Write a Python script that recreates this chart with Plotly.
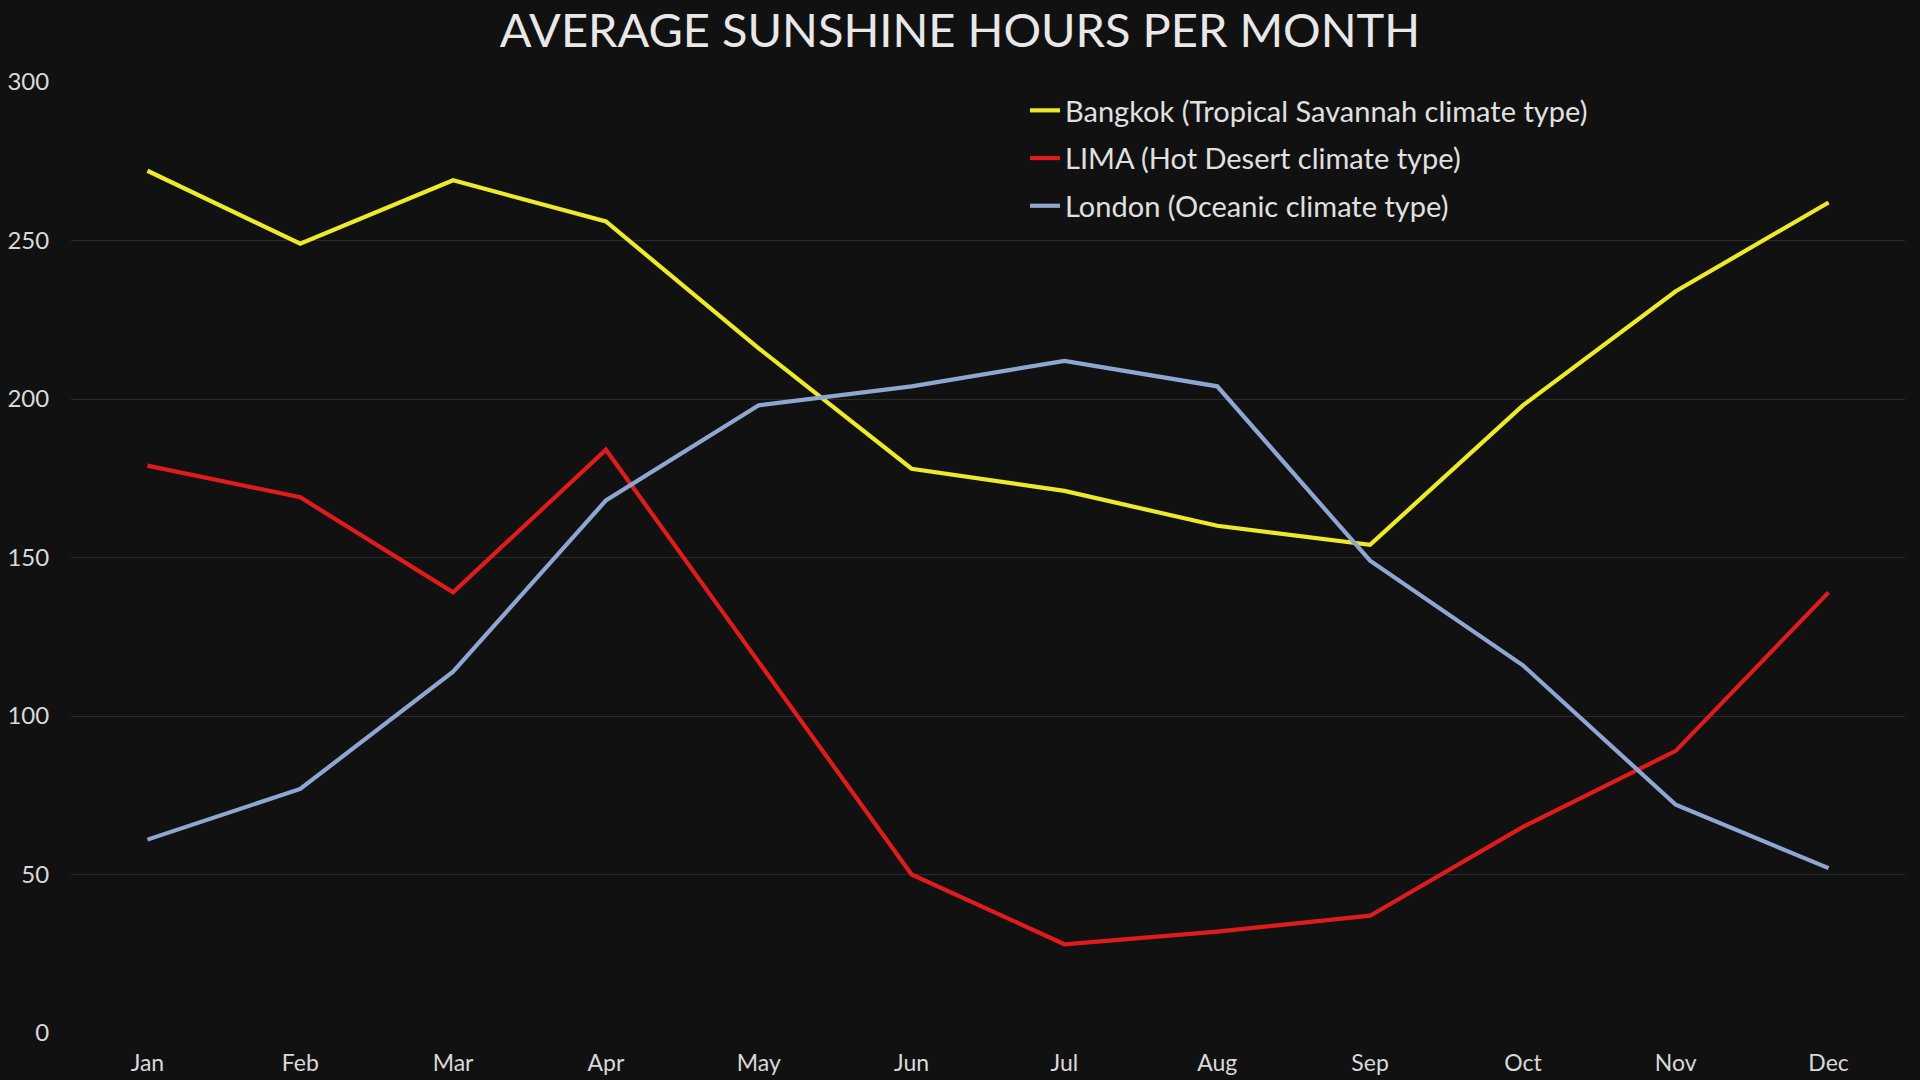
import plotly.graph_objects as go

months = ["Jan", "Feb", "Mar", "Apr", "May", "Jun", "Jul", "Aug", "Sep", "Oct", "Nov", "Dec"]
bangkok = [272, 249, 269, 256, 216, 178, 171, 160, 154, 198, 234, 262]
lima = [179, 169, 139, 184, 117, 50, 28, 32, 37, 65, 89, 139]
london = [61, 77, 114, 168, 198, 204, 212, 204, 149, 116, 72, 52]

names = [
    "Bangkok (Tropical Savannah climate type)",
    "LIMA (Hot Desert climate type)",
    "London (Oceanic climate type)",
]
colors = ["#ecea2a", "#e01b1b", "#8fa6d2"]

FONT = "Lato"
BG = "#111111"

fig = go.Figure()
for i, (name, vals, col) in enumerate(zip(names, [bangkok, lima, london], colors)):
    fig.add_trace(go.Scatter(
        x=months, y=vals, name=name, mode="lines",
        legendgroup=f"g{i}",
        line=dict(color=col, width=4.2),
    ))

fig.update_layout(
    width=1920, height=1080,
    paper_bgcolor=BG, plot_bgcolor=BG,
    margin=dict(l=71, r=15, t=82, b=47, autoexpand=False),
    font=dict(family=FONT, color="#d9d9d9"),
    title=dict(
        text="AVERAGE SUNSHINE HOURS PER MONTH",
        x=0.5, xanchor="center", xref="container",
        y=1 - 31 / 1080, yanchor="middle", yref="container",
        font=dict(size=47, color="#e8e8e8", family=FONT),
    ),
    showlegend=True,
    legend=dict(
        x=(1025 - 71) / 1834, xanchor="left",
        y=1 - (85 - 82) / 951, yanchor="top",
        bgcolor="rgba(0,0,0,0)",
        font=dict(size=29, color="#e0e0e0", family=FONT),
        tracegroupgap=7,
        itemwidth=30,
    ),
    xaxis=dict(
        type="category",
        range=[-0.5, 11.5],
        showgrid=False, zeroline=False, showline=False,
        automargin=False,
        ticks="outside", ticklen=9, tickcolor=BG,
        tickfont=dict(size=23, color="#d9d9d9"),
    ),
    yaxis=dict(
        range=[0, 300],
        tickvals=[0, 50, 100, 150, 200, 250, 300],
        showgrid=True, gridcolor="#2b2b2b", gridwidth=1,
        zeroline=False, showline=False,
        automargin=False,
        ticks="outside", ticklen=16, tickcolor=BG,
        tickfont=dict(size=24, color="#d9d9d9"),
    ),
)

fig.write_html("out.html")
